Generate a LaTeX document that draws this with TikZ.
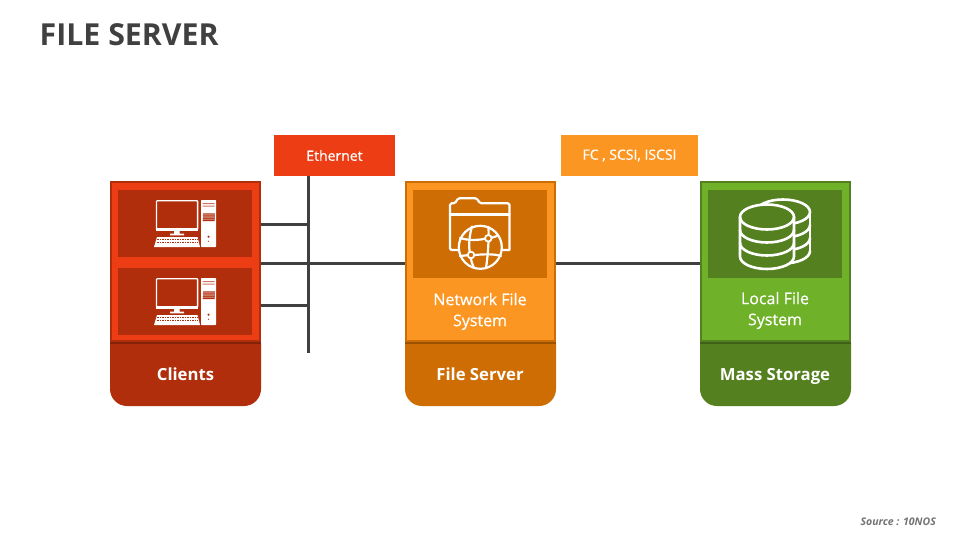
\documentclass[tikz,border=0pt]{standalone}
\usepackage{fontspec}
\setmainfont{Open Sans}
\newfontfamily\semi[FakeBold=0.6]{Open Sans}
\definecolor{redL}{HTML}{EC3D14}
\definecolor{redD}{HTML}{B02E0C}
\definecolor{orL}{HTML}{FC9622}
\definecolor{orD}{HTML}{CE6D04}
\definecolor{grL}{HTML}{6FB128}
\definecolor{grD}{HTML}{548020}
\definecolor{ink}{HTML}{404040}
\tikzset{
  box/.style={rectangle,inner sep=0pt,outer sep=0pt,anchor=north west},
  card/.style={box,minimum width=149pt,minimum height=159pt,line width=2pt},
  panel/.style={box,minimum width=134pt},
  wire/.style={draw=ink,line width=3pt},
  lbl/.style={text=white,inner sep=0pt,align=center,font=\semi\fontsize{16}{21}\selectfont},
  foot/.style={text=white,inner sep=0pt,anchor=base,font=\bfseries\fontsize{16.7}{20}\selectfont},
  tag/.style={box,minimum height=41pt,text=white,font=\semi\fontsize{14}{16}\selectfont},
  ico/.style={draw=white,line width=2.2pt,line join=round,line cap=round},
  dbico/.style={ico,line width=2.6pt}
}
\newcommand{\footshape}[2]{%
  \fill[#2] (#1,343) [rounded corners=17pt] -- (#1,406) -- ({#1+151},406) [sharp corners] -- ({#1+151},343) -- cycle;
  \fill[#2!75!black] (#1,341.5) rectangle ({#1+151},344);
}
\newcommand{\pcicon}[2]{%
  \begin{scope}[shift={(0,#1)}]
    \draw[white,line width=1.4pt,rounded corners=0.8pt] (156.5,200.7) rectangle (197.6,229.2);
    \fill[white] (155.7,228) rectangle (198.3,230.5);
    \fill[white] (174,230) rectangle (179.5,234) (170,233.5) rectangle (184,235.3);
    \fill[white] (157,237) -- (197.5,237) -- (200,247) -- (154,247) -- cycle;
    \foreach \yy in {239.5,242.5}
      \draw[#2,line width=0.8pt,dash pattern=on 1.5pt off 1pt] (157,\yy) -- (198,\yy);
    \fill[white,rounded corners=0.6pt] (201,200) rectangle (216,247);
    \fill[#2!65!white] (202.5,203) rectangle (214.5,204) (202.5,205.5) rectangle (214.5,206.5);
    \fill[#2!65!white] (202.5,213) rectangle (214.5,220);
    \fill[#2] (202.5,220) rectangle (214.5,221) (202.5,218) rectangle (214.5,218.7) (202.5,215.5) rectangle (214.5,216.2);
    \fill[#2] (208.5,236.7) circle (1.2pt) (208.5,241.2) circle (0.6pt);
  \end{scope}
}
\begin{document}
\begin{tikzpicture}[x=1pt,y=-1pt]
\useasboundingbox (0,0) rectangle (960,540);
\fill[white] (0,0) rectangle (960,540);
\node[anchor=west,inner sep=0pt,text=ink,font=\bfseries\fontsize{30.3}{36}\selectfont] (title) at (39.5,35) {FILE SERVER};

% tags
\node[tag,fill=redL,minimum width=121pt] (eth) at (274,135) {Ethernet};
\node[tag,fill=orL,minimum width=137pt] (fc) at (561,135) {FC , SCSI, ISCSI};

% cards
\node[card,fill=redL,draw=redD] (clients) at (111,182) {};
\node[card,fill=orL,draw=orD] (server) at (406,182) {};
\node[card,fill=grL,draw=grD] (storage) at (701,182) {};

% panels
\node[panel,fill=redD,minimum height=67pt] (pcA) at (118,190) {};
\node[panel,fill=redD,minimum height=67pt] (pcB) at (118,268) {};
\node[panel,fill=orD,minimum height=88pt] (srvp) at (413,190) {};
\node[panel,fill=grD,minimum height=88pt] (stop) at (708,190) {};

% wires
\coordinate (busT) at (308,176);
\coordinate (busX) at (308,352.5);
\coordinate (j1) at (308,224);
\coordinate (j2) at (308,305);
\coordinate (a0) at (261,224);
\coordinate (a1) at (261,263.5);
\coordinate (a2) at (261,305);
\coordinate (s0) at (405,263.5);
\coordinate (s1) at (556,263.5);
\coordinate (m0) at (700,263.5);
\draw[wire] (busT) -- (busX);
\draw[wire] (a0) -- (j1);
\draw[wire] (a2) -- (j2);
\draw[wire] (a1) -- (s0);
\draw[wire] (s1) -- (m0);

% footers
\footshape{110}{redD}
\footshape{405}{orD}
\footshape{700}{grD}
\node[foot] (fa) at (185.5,380.5) {Clients};
\node[foot] (fb) at (480,380.5) {File Server};
\node[foot] (fc2) at (775,380.5) {Mass Storage};

\node[lbl] (la) at (480,311.5) {Network File\\System};
\node[lbl] (lb) at (775,310.5) {Local File\\System};

% computer icons
\pcicon{0}{redD}
\pcicon{78}{redD}

% folder and globe icon
\draw[ico] (503,250) -- (509.5,250) -- (509.5,205.5) [rounded corners=1.5pt] -- (509.5,203.3) -- (480,203.3) -- (476.7,198.3) -- (458,198.3) -- (455,203.3) -- (450,203.3) -- (450,250) -- (458,250);
\draw[ico] (450,214.5) -- (509.5,214.5);
\fill[orD] (480.3,247.3) circle (22pt);
\draw[ico] (480.3,247.3) circle (21.5pt);
\draw[ico] (472,226.5) .. controls (468,240) and (468,255) .. (474,268);
\draw[ico] (488.5,227) .. controls (489,240) and (488,255) .. (486,268);
\draw[ico] (460,238) .. controls (470,241) and (480,240) .. (486,238.5);
\draw[ico] (491,238) -- (497,236);
\draw[ico] (475,255) .. controls (485,254) and (495,254) .. (501,256);
\draw[ico] (460,256) -- (467,255.3);
\fill[orD] (488.3,238.3) circle (3.5pt) (471,255) circle (3.5pt);
\draw[ico,line width=1.8pt] (488.3,238.3) circle (3.3pt) (471,255) circle (3.3pt);

% database icon
\draw[dbico] (783,212) ellipse (27pt and 12.5pt);
\draw[dbico] (810,212) -- (810,251);
\draw[dbico] (810,225) arc (0:-90:27pt and 12.5pt);
\draw[dbico] (810,238) arc (0:-90:27pt and 12.5pt);
\draw[dbico] (810,251) arc (0:-90:27pt and 12.5pt);
\fill[grD] (740,217) -- (740,256.5) arc (180:360:27pt and 12.5pt) -- (794,217) arc (0:180:27pt and 12.5pt) -- cycle;
\draw[dbico,fill=grD] (767,217) ellipse (27pt and 12.5pt);
\draw[dbico] (740,217) -- (740,256.5) arc (180:360:27pt and 12.5pt) -- (794,217);
\draw[dbico] (740,230) arc (180:360:27pt and 12.5pt);
\draw[dbico] (740,243) arc (180:360:27pt and 12.5pt);

\node[anchor=east,inner sep=0pt,text=black!55,font=\bfseries\itshape\fontsize{10.5}{12}\selectfont] (src) at (936,521.5) {Source : 10NOS};
\end{tikzpicture}
\end{document}
